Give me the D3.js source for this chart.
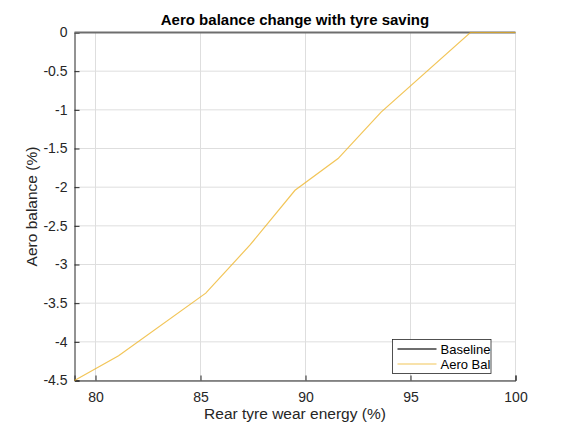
<!DOCTYPE html>
<html>
<head>
<meta charset="utf-8">
<script src="https://cdn.jsdelivr.net/npm/d3@7"></script>
<style>
  body { margin: 0; background: #fff; }
  svg { display: block; font-family: "Liberation Sans", Arial, sans-serif; }
</style>
</head>
<body>
<svg id="chart" width="570" height="428"></svg>
<script>
// values
var wearEnergy = [79, 81.1, 85.25, 87.35, 89.5, 91.55, 93.6, 97.85, 100];
var aeroBal    = [-4.5, -4.18, -3.37, -2.75, -2.04, -1.63, -1.03, 0, 0];
var baselineX  = [79, 100];
var baselineY  = [0, 0];
var xTicks = [80, 85, 90, 95, 100];
var yTicks = [0, -0.5, -1, -1.5, -2, -2.5, -3, -3.5, -4, -4.5];
var seriesNames = ["Baseline", "Aero Bal"];
var seriesColors = ["#6e6e6e", "#EDB120"];

var svg = d3.select("#chart");
var m = {left: 74.5, right: 515.5, top: 32.5, bottom: 380.5};

var x = d3.scaleLinear().domain([79, 100]).range([m.left, m.right]);
var y = d3.scaleLinear().domain([-4.5, 0]).range([m.bottom, m.top]);

// grid
var grid = svg.append("g").attr("stroke", "#dedede").attr("stroke-width", 1);
grid.selectAll("line.gx").data(xTicks).enter().append("line")
  .attr("x1", d => x(d)).attr("x2", d => x(d))
  .attr("y1", m.top).attr("y2", m.bottom);
grid.selectAll("line.gy").data(yTicks).enter().append("line")
  .attr("x1", m.left).attr("x2", m.right)
  .attr("y1", d => y(d)).attr("y2", d => y(d));

// axes, ticks inward like matlab, plain hyphen for minus
var xAxis = svg.append("g")
  .attr("transform", "translate(0," + m.bottom + ")")
  .call(d3.axisBottom(x).tickValues(xTicks).tickSize(-5).tickPadding(12).tickFormat(d => String(d)));
var yAxis = svg.append("g")
  .attr("transform", "translate(" + m.left + ",0)")
  .call(d3.axisLeft(y).tickValues(yTicks).tickSize(-5).tickPadding(7).tickFormat(d => String(d)));

[xAxis, yAxis].forEach(function(a) {
  a.select(".domain").attr("stroke", "#262626");
  a.selectAll(".tick line").attr("stroke", "#262626");
  a.selectAll(".tick text").attr("fill", "#262626")
    .style("font-size", "14px").style("font-family", "Liberation Sans, Arial, sans-serif");
});

var line = d3.line().x(d => x(d[0])).y(d => y(d[1]));

svg.append("path")
  .datum(d3.zip(baselineX, baselineY))
  .attr("d", line).attr("fill", "none")
  .attr("stroke", seriesColors[0]).attr("stroke-width", 2);

svg.append("path")
  .datum(d3.zip(wearEnergy, aeroBal))
  .attr("d", line).attr("fill", "none")
  .attr("stroke", seriesColors[1]).attr("stroke-opacity", 0.75).attr("stroke-width", 1.2);

// title and labels
svg.append("text").attr("x", (m.left + m.right) / 2).attr("y", 25)
  .attr("text-anchor", "middle").attr("font-weight", "bold")
  .attr("font-size", "15px").attr("fill", "#000")
  .text("Aero balance change with tyre saving");

svg.append("text").attr("x", (m.left + m.right) / 2).attr("y", 419)
  .attr("text-anchor", "middle").attr("font-size", "15.5px").attr("fill", "#262626")
  .text("Rear tyre wear energy (%)");

svg.append("text")
  .attr("transform", "translate(37," + ((m.top + m.bottom) / 2) + ") rotate(-90)")
  .attr("text-anchor", "middle").attr("font-size", "15.5px").attr("fill", "#262626")
  .text("Aero balance (%)");

// legend
var lg = svg.append("g").attr("transform", "translate(392.5,339.5)");
lg.append("rect").attr("width", 98.5).attr("height", 34)
  .attr("fill", "#fff").attr("stroke", "#262626").attr("stroke-width", 0.8);
seriesNames.forEach(function(name, i) {
  var yy = 9.5 + i * 15;
  lg.append("line").attr("x1", 5).attr("x2", 44).attr("y1", yy).attr("y2", yy)
    .attr("stroke", seriesColors[i]).attr("stroke-width", i === 0 ? 2 : 1.2)
    .attr("stroke-opacity", i === 0 ? 1 : 0.75);
  lg.append("text").attr("x", 48).attr("y", yy + 4.5)
    .attr("font-size", "13px").attr("fill", "#000").text(name);
});
</script>
</body>
</html>
